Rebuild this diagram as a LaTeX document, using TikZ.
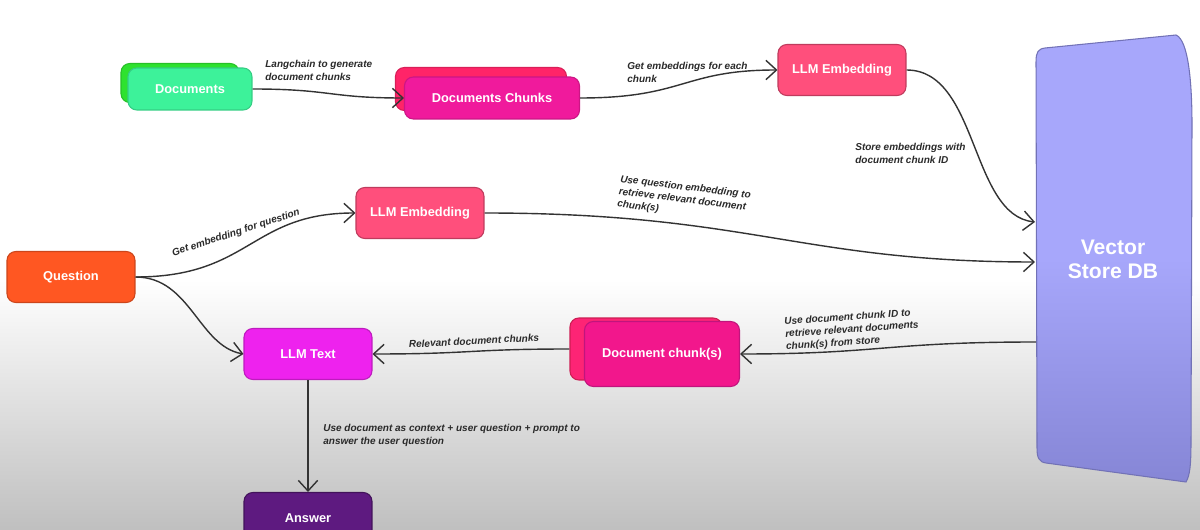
\documentclass[tikz,border=0pt]{standalone}
\usepackage{fontspec}
\setmainfont{Liberation Sans}
\usetikzlibrary{arrows.meta}

\definecolor{docgreen}{HTML}{2EE22E}
\definecolor{docmint}{HTML}{3DF29A}
\definecolor{chunkred}{HTML}{FF2468}
\definecolor{chunkpink}{HTML}{F01A9C}
\definecolor{embred}{HTML}{FF4F7C}
\definecolor{questorange}{HTML}{FF5722}
\definecolor{textmagenta}{HTML}{EE22EE}
\definecolor{answerpurple}{HTML}{5E1A80}
\definecolor{dbtop}{HTML}{A7A7FB}
\definecolor{dbbottom}{HTML}{8686D6}
\definecolor{linegray}{HTML}{333333}
\definecolor{labelgray}{HTML}{2A2A2A}

\begin{document}
\begin{tikzpicture}[x=0.02cm,y=-0.02cm,
    box/.style={rounded corners=5pt, draw, line width=0.6pt, text=white,
      font=\fontsize{7.3}{9}\selectfont\bfseries,
      minimum width=2.56cm, minimum height=1.02cm, inner sep=0pt},
    lbl/.style={font=\fontsize{5.7}{7.1}\selectfont\bfseries\itshape,
      text=labelgray, align=left, inner sep=0pt},
    flow/.style={draw=linegray, line width=0.8pt,
      -{Straight Barb[length=6pt,width=11pt,line width=0.8pt]}}]

  % page and background
  \useasboundingbox (0,0) rectangle (1200,530);
  \fill[white] (0,0) rectangle (1200,530);
  \fill[top color=white, bottom color=black!25] (0,280) rectangle (1200,530);

  % vector store
  \draw[dbbottom!85!black, line width=0.6pt, top color=dbtop, bottom color=dbbottom, middle color=dbtop]
    (1036,62) .. controls (1036,52) and (1038,49) .. (1045,48)
    -- (1176,35) .. controls (1188,40) and (1192,80) .. (1192,125)
    -- (1191,440) .. controls (1191,465) and (1190,475) .. (1186,482)
    -- (1046,463) .. controls (1039,462) and (1037,458) .. (1037,448) -- cycle;
  \node[text=white, font=\fontsize{12}{13.6}\selectfont\bfseries, align=center] (vecdb) at (1113,259) {Vector\\Store DB};
  \coordinate (vin1) at (1035,222);
  \coordinate (vin2) at (1035,262);
  \coordinate (vout) at (1036,342);

  % boxes
  \node[box, fill=docgreen, draw=docgreen!85!black, minimum width=2.36cm, minimum height=0.78cm] (docsback) at (180,83) {};
  \node[box, fill=docmint, draw=docmint!85!black, minimum width=2.48cm, minimum height=0.84cm] (docs) at (190,89) {Documents};

  \node[box, fill=chunkred, draw=chunkred!85!black, minimum width=3.42cm, minimum height=0.86cm] (chunksback) at (481,89) {};
  \node[box, fill=chunkpink, draw=chunkpink!85!black, minimum width=3.5cm, minimum height=0.84cm] (chunks) at (492,98) {Documents Chunks};

  \node[box, fill=embred, draw=embred!75!black] (embdoc) at (842,70) {LLM Embedding};
  \node[box, fill=embred, draw=embred!75!black] (embquest) at (420,213) {LLM Embedding};
  \node[box, fill=questorange, draw=questorange!80!black] (quest) at (71,277) {Question};
  \node[box, fill=textmagenta, draw=textmagenta!80!black] (llmtext) at (308,354) {LLM Text};

  \node[box, fill=chunkred!90!textmagenta, draw=chunkred!80!black, minimum width=3.04cm, minimum height=1.24cm] (foundback) at (646,349) {};
  \node[box, fill=chunkpink!90!red, draw=chunkpink!80!black, minimum width=3.1cm, minimum height=1.3cm] (found) at (662,354) {Document chunk(s)};

  \node[box, fill=answerpurple, draw=answerpurple!70!black] (answer) at (308,518) {Answer};

  % connectors
  \draw[flow] (docs.east) .. controls +(78,0) and +(-75,0) .. (chunks.west);
  \draw[flow] (chunks.east) .. controls +(105,0) and +(-95,0) .. (embdoc.west);
  \draw[flow] (embdoc.east) .. controls +(72,0) and +(-65,-7) .. (vin1);
  \draw[flow] (quest.east) .. controls +(115,0) and +(-105,0) .. (embquest.west);
  \draw[flow] (embquest.east) .. controls +(265,0) and +(-235,0) .. (vin2);
  \draw[flow] (quest.east) .. controls +(55,0) and +(-45,-8) .. (llmtext.west);
  \draw[flow] (foundback.west) .. controls +(-100,0) and +(100,0) .. (llmtext.east);
  \draw[flow] (vout) .. controls +(-150,0) and +(140,0) .. (found.east);
  \draw[flow] (llmtext.south) -- (answer.north);

  % labels
  \node[lbl, anchor=north west] (lbsplit) at (265,60) {Langchain to generate\\document chunks};
  \node[lbl, anchor=north west] (lbembed) at (627,62) {Get embeddings for each\\chunk};
  \node[lbl, anchor=north west] (lbstore) at (855,143) {Store embeddings with\\document chunk ID};
  \node[lbl, rotate=18] (lbquest) at (236,233) {Get embedding for question};
  \node[lbl, rotate=-7] (lbsearch) at (684,200) {Use question embedding to\\retrieve relevant document\\chunk(s)};
  \node[lbl, rotate=3] (lbrel) at (474,341) {Relevant document chunks};
  \node[lbl, rotate=4] (lbfetch) at (852,330) {Use document chunk ID to\\retrieve relevant documents\\chunk(s) from store};
  \node[lbl, anchor=north west] (lbanswer) at (323,424) {Use document as context + user question + prompt to\\answer the user question};
\end{tikzpicture}
\end{document}
